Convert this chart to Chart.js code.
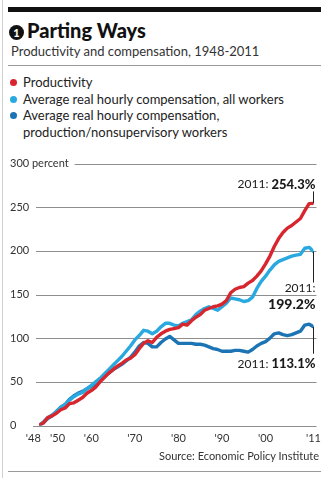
<!DOCTYPE html>
<html>
<head>
<meta charset="utf-8">
<script src="https://cdn.jsdelivr.net/npm/chart.js@4/dist/chart.umd.min.js"></script>
<style>
  html, body { margin: 0; padding: 0; background: #fff; }
  body { width: 327px; height: 478px; position: relative; overflow: hidden; font-family: Lato, "Open Sans", sans-serif; color: #222; }
  .frame { position: absolute; left: 2px; top: 0; width: 1px; height: 478px; background: #d0d0d0; }
  #head { position: absolute; left: 8px; top: 7px; width: 313px; border-top: 5px solid #111; }
  .title { margin: 6px 0 0 1px; height: 24px; font-size: 20px; font-weight: 900; line-height: 24px; color: #111; white-space: nowrap; }
  .num { display: inline-block; width: 15px; height: 15px; border-radius: 50%; background: #111; color: #fff; font-size: 11px; line-height: 15px; text-align: center; vertical-align: 1px; margin-right: 3px; font-weight: 900; }
  .subtitle { margin: 1px 0 0 3px; font-size: 13px; line-height: 16px; color: #333; white-space: nowrap; }
  .rule { position: absolute; left: 8px; width: 313px; height: 1px; background: #9a9a9a; }
  .legend { position: absolute; left: 10px; top: 74px; font-size: 13px; line-height: 16.7px; color: #222; }
  .legend div { position: relative; padding-left: 13px; white-space: nowrap; }
  .dot { position: absolute; left: 0; top: 5px; width: 7px; height: 7px; border-radius: 50%; }
  .source { position: absolute; right: 8px; top: 449px; font-size: 11px; line-height: 14px; color: #333; white-space: nowrap; }
  #wrap { position: absolute; left: 0; top: 150px; width: 327px; height: 300px; }
</style>
</head>
<body>
<div class="frame"></div>
<div id="head">
  <div class="title"><span class="num">1</span>Parting Ways</div>
  <div class="subtitle">Productivity and compensation, 1948-2011</div>
</div>
<div class="rule" style="top:65px"></div>
<div class="legend">
  <div><span class="dot" style="background:#d8262e"></span>Productivity</div>
  <div><span class="dot" style="background:#2aa9e0"></span>Average real hourly compensation, all workers</div>
  <div><span class="dot" style="background:#1c74b4"></span>Average real hourly compensation,<br>production/nonsupervisory workers</div>
</div>
<div id="wrap"><canvas id="c" width="327" height="300"></canvas></div>
<div class="source">Source: Economic Policy Institute</div>
<div class="rule" style="top:471px"></div>

<script>
const years = [];
for (let y = 1948; y <= 2011; y++) years.push(y);

const productivity = [
  0, 3, 9, 11, 14, 18, 20, 25, 26, 29,
  32, 37, 40, 44, 50, 55, 60, 64, 68, 71,
  75, 77, 81, 88, 94, 97, 95, 101, 105, 108,
  110, 111, 112, 116, 115, 120, 124, 127, 132, 134,
  136, 137, 139, 143, 152, 156, 158, 159, 163, 166,
  171, 177, 185, 194, 205, 214, 221, 226, 229, 233,
  237, 246, 254, 254.3
];
const allWorkers = [
  0, 4, 9, 12, 16, 21, 24, 29, 33, 36,
  38, 42, 46, 50, 54, 59, 64, 69, 74, 79,
  85, 91, 98, 103, 109, 108, 105, 108, 113, 117,
  117, 115, 114, 117, 119, 121, 127, 131, 134, 136,
  134, 132, 136, 140, 146, 145, 144, 142, 143, 147,
  157, 165, 171, 178, 184, 188, 190, 192, 194, 195,
  196, 203, 204, 199.2
];
const productionWorkers = [
  0, 3, 8, 11, 16, 21, 24, 30, 34, 37,
  39, 42, 45, 48, 52, 56, 60, 64, 67, 70,
  74, 78, 84, 91, 95, 94, 90, 90, 95, 99,
  102, 98, 94, 94, 94, 94, 93, 93, 92, 90,
  88, 87, 85, 85, 85, 86, 86, 85, 84, 87,
  91, 94, 96, 100, 105, 106, 104, 103, 104, 106,
  108, 115, 116, 113.1
];
const yTicks = [0, 50, 100, 150, 200, 250, 300];
const xTicks = [1948, 1950, 1960, 1970, 1980, 1990, 2000, 2011];
const xTickLabels = ["'48    ", "       '50", "'60", "'70", "'80", "'90", "'00", "'11"];

const RED = '#d8262e', LIGHT = '#2aa9e0', DARK = '#1c74b4';
const FONT = 'Lato, "Open Sans", sans-serif';

const toPoints = arr => arr.map((v, i) => ({x: years[i], y: v}));

const gridPlugin = {
  id: 'customGrid',
  beforeDatasetsDraw(chart) {
    const {ctx, chartArea} = chart;
    const ys = chart.scales.y;
    ctx.save();
    ctx.strokeStyle = '#8e8e8e';
    ctx.lineWidth = 1;
    ctx.font = '11px ' + FONT;
    yTicks.forEach(v => {
      const py = Math.round(ys.getPixelForValue(v)) + 0.5;
      let x0 = chartArea.left - 3;
      if (v === 300) x0 = ys.left + ctx.measureText('300 percent').width + 6;
      if (v === 0) x0 = chartArea.left - 6;
      ctx.beginPath();
      ctx.moveTo(x0, py);
      ctx.lineTo(chartArea.right + 3, py);
      ctx.stroke();
    });
    ctx.restore();
  }
};

const annoPlugin = {
  id: 'annos',
  afterDatasetsDraw(chart) {
    const {ctx} = chart;
    const xs = chart.scales.x, ys = chart.scales.y;
    const last = years.length - 1;
    const px = Math.round(xs.getPixelForValue(years[last])) + 0.5;
    const rightEdge = px + 2;
    ctx.save();
    ctx.strokeStyle = '#222';
    ctx.lineWidth = 1;
    ctx.fillStyle = '#1a1a1a';
    ctx.textBaseline = 'middle';

    function twoPart(reg, bold, y, sizeR, sizeB) {
      ctx.font = '900 ' + sizeB + 'px ' + FONT;
      const wb = ctx.measureText(bold).width;
      ctx.textAlign = 'right';
      ctx.fillText(bold, rightEdge, y);
      ctx.font = sizeR + 'px ' + FONT;
      ctx.fillText(reg, rightEdge - wb, y);
    }

    const yP = ys.getPixelForValue(productivity[last]);
    ctx.beginPath(); ctx.moveTo(px, yP); ctx.lineTo(px, yP - 12); ctx.stroke();
    twoPart('2011: ', productivity[last].toFixed(1) + '%', yP - 19, 12, 13);

    const yA = ys.getPixelForValue(allWorkers[last]);
    ctx.beginPath(); ctx.moveTo(px, yA); ctx.lineTo(px, yA + 31); ctx.stroke();
    ctx.textAlign = 'right';
    ctx.font = '12px ' + FONT;
    ctx.fillText('2011:', rightEdge, yA + 37);
    ctx.font = '900 14px ' + FONT;
    ctx.fillText(allWorkers[last].toFixed(1) + '%', rightEdge, yA + 53);

    const yW = ys.getPixelForValue(productionWorkers[last]);
    ctx.beginPath(); ctx.moveTo(px, yW); ctx.lineTo(px, yW + 27); ctx.stroke();
    twoPart('2011: ', productionWorkers[last].toFixed(1) + '%', yW + 37, 12, 13);
    ctx.restore();
  }
};

new Chart(document.getElementById('c'), {
  type: 'line',
  data: {
    datasets: [
      { label: 'Productivity', data: toPoints(productivity), borderColor: RED, order: 0 },
      { label: 'Average real hourly compensation, all workers', data: toPoints(allWorkers), borderColor: LIGHT, order: 1 },
      { label: 'Average real hourly compensation, production/nonsupervisory workers', data: toPoints(productionWorkers), borderColor: DARK, order: 2 }
    ]
  },
  options: {
    responsive: false,
    animation: false,
    devicePixelRatio: 1,
    layout: { padding: { left: 10, right: 12, top: 13.5, bottom: 0 } },
    elements: {
      line: { borderWidth: 3.4, tension: 0, borderCapStyle: 'round', borderJoinStyle: 'round' },
      point: { radius: 0, hoverRadius: 0 }
    },
    plugins: { legend: { display: false }, tooltip: { enabled: false } },
    scales: {
      x: {
        type: 'linear', min: 1948, max: 2011,
        grid: { display: false, drawTicks: false },
        border: { display: false },
        afterBuildTicks(scale) { scale.ticks = xTicks.map(v => ({value: v})); },
        afterFit(scale) { scale.height = 24.5; },
        ticks: {
          autoSkip: false, maxRotation: 0, padding: 6,
          color: '#333', font: { family: FONT, size: 11 },
          callback(v) { const i = xTicks.indexOf(v); return i >= 0 ? xTickLabels[i] : ''; }
        }
      },
      y: {
        min: 0, max: 300,
        grid: { display: false, drawTicks: false },
        border: { display: false },
        afterBuildTicks(scale) { scale.ticks = yTicks.map(v => ({value: v})); },
        afterFit(scale) { scale.width = 29; },
        ticks: {
          mirror: true, padding: -29,
          color: '#333', font: { family: FONT, size: 11 },
          callback(v) { return v === 300 ? '300 percent' : String(v); }
        }
      }
    }
  },
  plugins: [gridPlugin, annoPlugin]
});
</script>
</body>
</html>
